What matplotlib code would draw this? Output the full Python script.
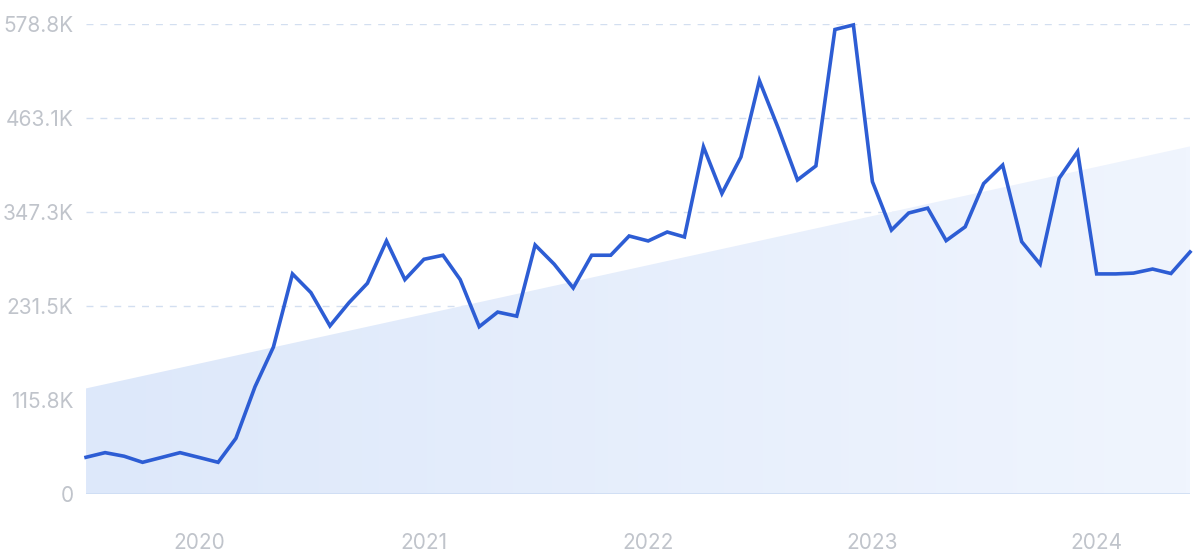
import numpy as np
import pandas as pd
import matplotlib
matplotlib.use('Agg')
import matplotlib.pyplot as plt
import matplotlib.dates as mdates
from matplotlib.colors import LinearSegmentedColormap

plt.rcParams['font.family'] = ['Inter', 'DejaVu Sans']

# monthly search volume, Jul 2019 - Jun 2024
months = pd.date_range('2019-07-01', periods=60, freq='MS')
volume = [
    45200, 50900, 46500, 39000, 45000, 50900, 45000, 39000, 68600, 132000,
    181000, 271000, 248000, 207000, 235600, 259500, 311600, 264000, 289000, 294000,
    264000, 206000, 224000, 219000, 306600, 283000, 253700, 294000, 294000, 317700,
    311600, 322600, 316500, 427500, 370000, 415000, 509000, 450000, 386700, 404000,
    572000, 577600, 384600, 325000, 346000, 352000, 312000, 329000, 382200, 405000,
    310700, 283000, 388800, 421600, 271000, 271000, 272000, 277000, 271500, 298000,
]
trend_start = 130000
trend_end = 428000

y_ticks = [0, 115800, 231500, 347300, 463100, 578800]
y_labels = ['0', '115.8K', '231.5K', '347.3K', '463.1K', '578.8K']
year_ticks = pd.to_datetime(['2020-01-01', '2021-01-01', '2022-01-01', '2023-01-01', '2024-01-01'])
year_labels = ['2020', '2021', '2022', '2023', '2024']

fig = plt.figure(figsize=(12, 5.6), dpi=100)
ax = fig.add_axes([0.0717, 0.1179, 0.92, 0.8393])

x0, x1 = months[0], months[-1]
ax.set_xlim(x0, x1)
ax.set_ylim(0, y_ticks[-1])

# trend area with a horizontal gradient
trend_x = [x0, x1]
trend_y = [trend_start, trend_end]
poly = ax.fill_between(trend_x, 0, trend_y, facecolor='none', edgecolor='none')
cmap = LinearSegmentedColormap.from_list('tr', ['#dde8fa', '#f0f5fe'])
grad = np.linspace(0, 1, 256).reshape(1, -1)
xn0, xn1 = mdates.date2num(x0), mdates.date2num(x1)
im = ax.imshow(grad, cmap=cmap, aspect='auto', extent=[xn0, xn1, 0, trend_end],
               origin='lower', zorder=1)
path = poly.get_paths()[0]
im.set_clip_path(path, transform=ax.transData)

for t in y_ticks[1:]:
    ax.axhline(t, color='#d3dff0', lw=1, ls=(0, (5, 5)), zorder=0.5)
ax.axhline(0, color='#cddcf3', lw=1.2, zorder=2)

ax.plot(months, volume, color='#2d5dd4', lw=2.6, solid_joinstyle='miter',
        zorder=3, clip_on=False)

ax.set_yticks(y_ticks)
ax.set_yticklabels(y_labels)
ax.set_xticks(year_ticks)
ax.set_xticklabels(year_labels)
ax.tick_params(axis='both', length=0, colors='#c0c4cb', labelsize=15)
ax.tick_params(axis='y', pad=9)
ax.tick_params(axis='x', pad=28)
for s in ax.spines.values():
    s.set_visible(False)

fig.savefig('out.png', dpi=100, facecolor='white')
